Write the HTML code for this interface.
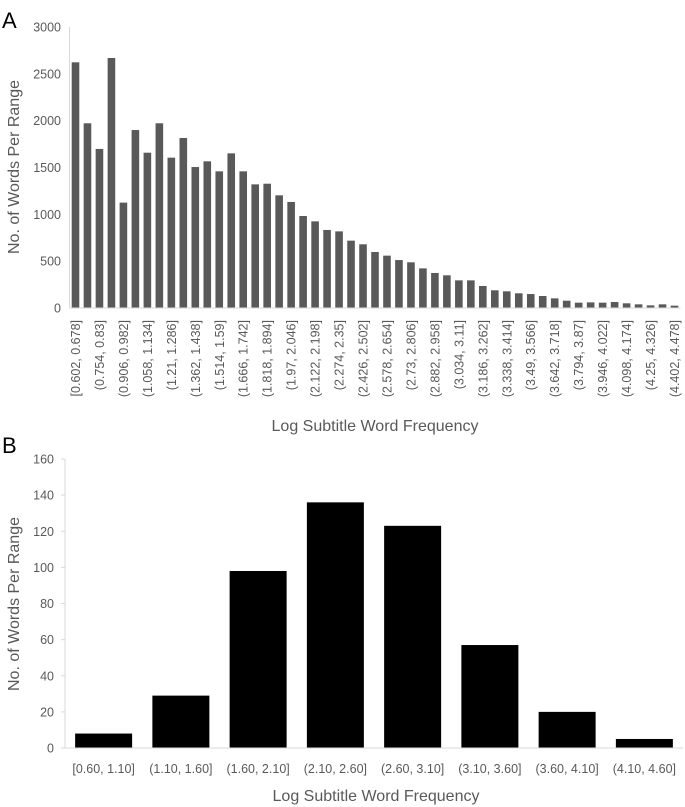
<!DOCTYPE html>
<html><head><meta charset="utf-8"><style>
html,body{margin:0;padding:0;background:#fff;}
svg{display:block;font-family:"Liberation Sans",sans-serif;}
</style></head><body>
<svg id="chart" width="685" height="807" viewBox="0 0 685 807"></svg>
<script>
const aCategories = ["[0.602, 0.678]","(0.678, 0.754]","(0.754, 0.83]","(0.83, 0.906]","(0.906, 0.982]","(0.982, 1.058]","(1.058, 1.134]","(1.134, 1.21]","(1.21, 1.286]","(1.286, 1.362]","(1.362, 1.438]","(1.438, 1.514]","(1.514, 1.59]","(1.59, 1.666]","(1.666, 1.742]","(1.742, 1.818]","(1.818, 1.894]","(1.894, 1.97]","(1.97, 2.046]","(2.046, 2.122]","(2.122, 2.198]","(2.198, 2.274]","(2.274, 2.35]","(2.35, 2.426]","(2.426, 2.502]","(2.502, 2.578]","(2.578, 2.654]","(2.654, 2.73]","(2.73, 2.806]","(2.806, 2.882]","(2.882, 2.958]","(2.958, 3.034]","(3.034, 3.11]","(3.11, 3.186]","(3.186, 3.262]","(3.262, 3.338]","(3.338, 3.414]","(3.414, 3.49]","(3.49, 3.566]","(3.566, 3.642]","(3.642, 3.718]","(3.718, 3.794]","(3.794, 3.87]","(3.87, 3.946]","(3.946, 4.022]","(4.022, 4.098]","(4.098, 4.174]","(4.174, 4.25]","(4.25, 4.326]","(4.326, 4.402]","(4.402, 4.478]"];
const aValues = [2623,1972,1698,2669,1125,1900,1658,1972,1605,1815,1505,1566,1459,1651,1459,1320,1327,1203,1132,982,925,833,818,719,680,598,559,512,488,423,374,349,295,295,235,189,178,157,149,128,103,78,57,60,57,64,50,39,28,39,25];
const aTicks = [0,500,1000,1500,2000,2500,3000];
const bCategories = ["[0.60, 1.10]","(1.10, 1.60]","(1.60, 2.10]","(2.10, 2.60]","(2.60, 3.10]","(3.10, 3.60]","(3.60, 4.10]","(4.10, 4.60]"];
const bValues = [8,29,98,136,123,57,20,5];
const bTicks = [0,20,40,60,80,100,120,140,160];

const svg = document.getElementById('chart');
const NS = 'http://www.w3.org/2000/svg';
function mk(tag, attrs, text){
  const e = document.createElementNS(NS, tag);
  for (const k in attrs) e.setAttribute(k, attrs[k]);
  if (text !== undefined) e.textContent = text;
  svg.appendChild(e);
  return e;
}

// ---------- Chart A ----------
const aL = 69.5, aR = 680.5, aY0 = 308, aYT = 27, aMax = 3000;
const aY = v => aY0 - (v / aMax) * (aY0 - aYT);
const aBand = (aR - aL) / aCategories.length;
const aX = i => aL + (i + 0.5) * aBand;

let t = mk('text', {x: 2, y: 28, 'font-size': 22, fill: '#000'}, 'A');



aTicks.forEach(v => {
  const e = mk('text', {x: 61, y: aY(v) + 4.5, 'font-size': 12.5, fill: '#595959', 'text-anchor': 'end'}, String(v));
  
  
});
let l = mk('line', {x1: aL, y1: aYT, x2: aL, y2: aY0, stroke: '#d9d9d9', 'stroke-width': 1});



aValues.forEach((v, i) => {
  const w = 7.6;
  const r = mk('rect', {x: aX(i) - w / 2, y: aY(v), width: w, height: aY0 - aY(v), fill: '#595959'});
  
  
});
l = mk('line', {x1: aL, y1: aY0, x2: aR, y2: aY0, stroke: '#d9d9d9', 'stroke-width': 1});



aCategories.forEach((c, i) => {
  if (i % 2 !== 0) return;
  const x = aX(i) + 4.5, y = 320;
  const e = mk('text', {x: x, y: y, 'font-size': 12.5, fill: '#595959', 'text-anchor': 'end', transform: `rotate(-90 ${x} ${y})`}, c);
  
  
});

t = mk('text', {x: 375, y: 431, 'font-size': 16, fill: '#595959', 'text-anchor': 'middle'}, 'Log Subtitle Word Frequency');


t = mk('text', {x: 19, y: 167, 'font-size': 16, fill: '#595959', 'text-anchor': 'middle', transform: 'rotate(-90 19 167)'}, 'No. of Words Per Range');



// ---------- Chart B ----------
const bL = 65, bR = 683, bY0 = 748, bYT = 459, bMax = 160;
const bY = v => bY0 - (v / bMax) * (bY0 - bYT);
const bBand = (bR - bL) / bCategories.length;
const bX = i => bL + (i + 0.5) * bBand;

t = mk('text', {x: 2, y: 453, 'font-size': 22, fill: '#000'}, 'B');



bTicks.forEach(v => {
  const e = mk('text', {x: 54, y: bY(v) + 4.5, 'font-size': 12.5, fill: '#595959', 'text-anchor': 'end'}, String(v));
  
  
  const tk = mk('line', {x1: bL - 4, y1: bY(v), x2: bL, y2: bY(v), stroke: '#d9d9d9', 'stroke-width': 1});
  
  
});
l = mk('line', {x1: bL, y1: bYT, x2: bL, y2: bY0, stroke: '#d9d9d9', 'stroke-width': 1});



bValues.forEach((v, i) => {
  const w = 57;
  const r = mk('rect', {x: bX(i) - w / 2, y: bY(v), width: w, height: bY0 - bY(v), fill: '#000'});
  
  
});
l = mk('line', {x1: bL, y1: bY0, x2: bR, y2: bY0, stroke: '#d9d9d9', 'stroke-width': 1});



bCategories.forEach((c, i) => {
  const e = mk('text', {x: bX(i), y: 773, 'font-size': 12.5, fill: '#595959', 'text-anchor': 'middle'}, c);
  
  
});

t = mk('text', {x: 376, y: 801, 'font-size': 16, fill: '#595959', 'text-anchor': 'middle'}, 'Log Subtitle Word Frequency');


t = mk('text', {x: 19, y: 604, 'font-size': 16, fill: '#595959', 'text-anchor': 'middle', transform: 'rotate(-90 19 604)'}, 'No. of Words Per Range');


</script>
</body></html>
